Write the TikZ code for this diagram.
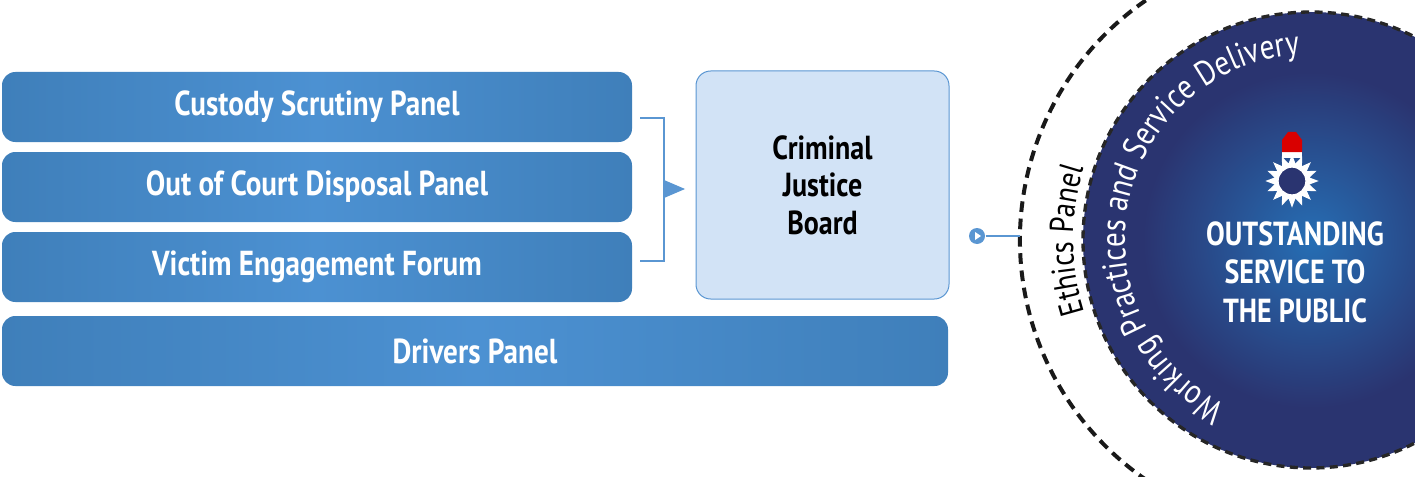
\documentclass[tikz,border=0pt]{standalone}
\usepackage{fontspec}
\setmainfont{PT Sans}[FakeStretch=0.84]
\usetikzlibrary{arrows.meta,decorations.text,shapes.geometric}
\definecolor{panelblue}{RGB}{63,127,186}
\definecolor{panellight}{RGB}{76,145,210}
\definecolor{boardfill}{RGB}{210,227,246}
\definecolor{boardline}{RGB}{90,150,210}
\definecolor{navy}{RGB}{42,52,112}
\definecolor{midblue}{RGB}{38,110,180}
\tikzset{every picture/.style={line width=0.75pt}}
\tikzset{
  panelbox/.style={rounded corners=10pt, inner sep=0pt, left color=panelblue, right color=panelblue, middle color=panellight, text=white, font=\fontsize{26}{30}\selectfont\bfseries},
  boardbox/.style={rounded corners=11pt, draw=boardline, fill=boardfill, inner sep=0pt, align=center, font=\fontsize{25}{28}\selectfont\bfseries},
  link/.style={draw=boardline, line width=1.5pt}
}

\begin{document}
\begin{tikzpicture}[x=0.75pt,y=0.75pt]
\useasboundingbox (0,0) rectangle (1415,476);

% panels
\node[panelbox, minimum width=472.5pt, minimum height=52.5pt] (custody) at (317,369) {Custody Scrutiny Panel};
\node[panelbox, minimum width=472.5pt, minimum height=52.5pt] (court) at (317,289) {Out of Court Disposal Panel};
\node[panelbox, minimum width=472.5pt, minimum height=52.5pt] (victim) at (317,209) {Victim Engagement Forum};
\node[panelbox, minimum width=709.5pt, minimum height=52.5pt] (drivers) at (475,125) {Drivers Panel};

% board
\node[boardbox, minimum width=189.75pt, minimum height=171pt] (cjb) at (822.5,291) {Criminal\\Justice\\Board};

% bracket into board
\coordinate (btop) at (640,358);
\coordinate (bbot) at (640,215);
\coordinate (bmid) at (664,287);
\draw[link] (btop) -| (bmid) |- (bbot);
\fill[boardline] (bmid) ++(0,-9) -- ++(0,18) -- ++(21,-9) -- cycle;

% outcome circle
\coordinate (hub) at (1311,236);
\draw[black!90, line width=3pt, dash pattern=on 8pt off 5pt] (hub) ++(70:291) arc[start angle=70, end angle=290, radius=291];
\fill[navy] (hub) circle[radius=228];
\draw[black!85, line width=2.5pt, dash pattern=on 6pt off 4pt] (hub) circle[radius=228];
\shade[inner color=midblue, outer color=navy] (hub) circle[radius=168];

% connector to ethics ring
\coordinate (ethics) at (1020,240);
\node[circle, fill=boardline, minimum size=12pt, inner sep=0pt] (dot) at (977,240) {};
\fill[white] (dot.center) ++(-2,-4) -- ++(0,8) -- ++(6,-4) -- cycle;
\draw[link] (dot) -- (ethics);

% ring labels
\path[decorate, decoration={text along path, text align=center, text={|\fontsize{25}{28}\selectfont|Ethics Panel}}]
  (hub) ++(220:238) arc[start angle=220, end angle=140, radius=238];
\path[decorate, decoration={text along path, text align=center, text={|\fontsize{26}{30}\selectfont\color{white}|Working Practices and Service Delivery}}]
  (hub) ++(244:186) arc[start angle=244, end angle=92, radius=186];

% crest
\node[star, star points=16, star point ratio=1.5, fill=white, minimum size=40pt, inner sep=0pt] (crest) at (1292,295) {};
\node[circle, fill=navy, draw=white, line width=1pt, minimum size=21pt] at (crest) {};
\fill[white] (1282,318) rectangle (1302,324);
\fill[red!85!black] (1282,324) -- (1302,324) -- (1302,336) -- (1296,344) -- (1288,344) -- (1282,336) -- cycle;

\node[text=white, align=center, font=\fontsize{25}{29}\selectfont\bfseries] (goal) at (1295,204) {OUTSTANDING\\SERVICE TO\\THE PUBLIC};

\end{tikzpicture}
\end{document}
